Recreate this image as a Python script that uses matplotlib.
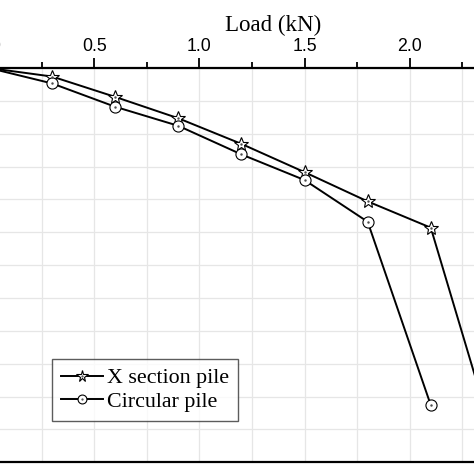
import matplotlib
matplotlib.use("Agg")
import matplotlib.pyplot as plt
from matplotlib.legend_handler import HandlerTuple
from matplotlib.ticker import MultipleLocator

# load (kN) vs displacement
load_x = [0.0, 0.3, 0.6, 0.9, 1.2, 1.5, 1.8, 2.1, 2.4]
disp_x = [0.0, 0.26, 0.88, 1.53, 2.31, 3.17, 4.06, 4.86, 11.3]

load_c = [0.0, 0.3, 0.6, 0.9, 1.2, 1.5, 1.8, 2.1]
disp_c = [0.0, 0.47, 1.18, 1.76, 2.63, 3.41, 4.68, 10.26]

x_label = "Load (kN)"
names = ["X section pile", "Circular pile"]

fig = plt.figure(figsize=(4.74, 4.74), dpi=100)
ax = fig.add_axes([-11 / 474, 1 - 462.3 / 474, 568 / 474, (462.3 - 68) / 474])

style = dict(color="black", lw=1.4, mfc="white", mec="black", mew=0.8, zorder=3)
lx, = ax.plot(load_x, disp_x, marker="*", ms=10.5, **style)
lc, = ax.plot(load_c, disp_c, marker="o", ms=8, **style)
# little centre dots inside the markers
dx, = ax.plot(load_x, disp_x, ls="none", marker=".", ms=1.5, color="0.3", zorder=4)
dc, = ax.plot(load_c, disp_c, ls="none", marker=".", ms=1.5, color="0.3", zorder=4)

ax.set_xlim(0, 2.7)
ax.set_ylim(12, 0)
ax.xaxis.set_major_locator(MultipleLocator(0.5))
ax.xaxis.set_minor_locator(MultipleLocator(0.25))
ax.yaxis.set_major_locator(MultipleLocator(1))
ax.xaxis.tick_top()
ax.xaxis.set_label_position("top")
ax.set_xlabel(x_label, family="Liberation Serif", fontsize=16.5, labelpad=5)
ax.tick_params(axis="x", which="major", direction="out", length=7, width=1.3,
               labelsize=12.8, pad=2.5)
ax.tick_params(axis="x", which="minor", direction="out", length=4, width=1.3)
ax.tick_params(axis="y", length=0, labelleft=False)
for lab in ax.get_xticklabels():
    lab.set_family("Liberation Sans")

ax.grid(True, which="both", axis="x", color="#e6e6e6", lw=0.9)
ax.grid(True, which="major", axis="y", color="#e6e6e6", lw=0.9)
ax.set_axisbelow(True)
for side in ["top", "bottom"]:
    ax.spines[side].set_linewidth(1.6)
ax.spines["right"].set_visible(False)
ax.spines["left"].set_visible(False)

leg = ax.legend([(lx, dx), (lc, dc)], names,
                handler_map={tuple: HandlerTuple(ndivide=1, pad=0)},
                loc="upper left",
                bbox_to_anchor=((52.3 + 11) / 568, (462.3 - 359.3) / 394.3),
                prop={"family": "Liberation Serif", "size": 15.8},
                frameon=True, fancybox=False, edgecolor="#333333",
                markerscale=0.8, handlelength=1.9, handletextpad=0.2,
                borderpad=0.4, labelspacing=0.15, borderaxespad=0)
leg.get_frame().set_linewidth(1.0)

fig.savefig("out.png", dpi=100)
